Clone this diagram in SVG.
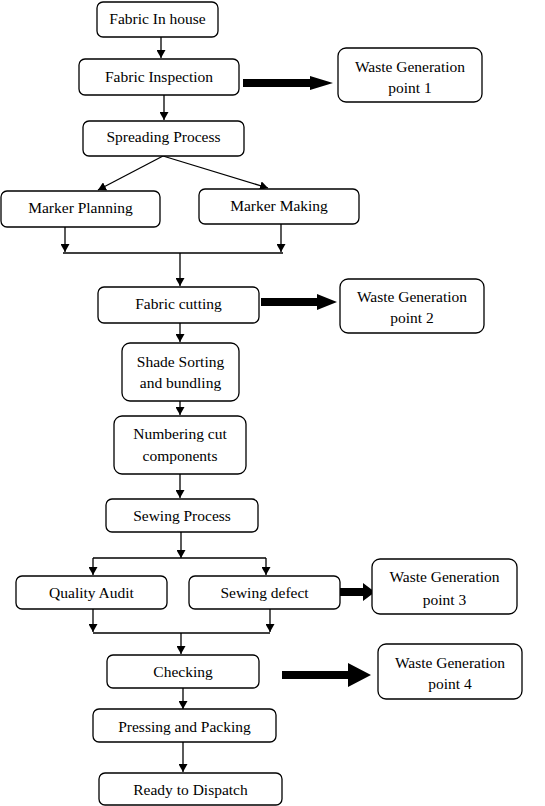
<svg xmlns="http://www.w3.org/2000/svg" width="545" height="806" viewBox="0 0 545 806" font-family="'Liberation Serif', 'Times New Roman', 'DejaVu Serif', serif">
<style>
.n rect{fill:#fff;stroke:#000;stroke-width:1.3}
text{font-family:'Liberation Serif','Times New Roman','DejaVu Serif',serif;font-size:15.5px;fill:#000;text-anchor:middle}
.c line{stroke:#000;stroke-width:1.3}
.c .a{marker-end:url(#ah)}
.t{fill:#000}
</style>
<defs>
<marker id="ah" markerUnits="userSpaceOnUse" markerWidth="8" markerHeight="9" refX="8" refY="4.5" orient="auto">
<path d="M0,0 L8,4.5 L0,9 z" fill="#000"/>
</marker>
</defs>
<rect width="545" height="806" fill="#fff"/>
<g class="c" id="connectors">
<line class="a" x1="161" y1="37" x2="161" y2="58"/>
<line class="a" x1="164" y1="95" x2="164" y2="120"/>
<line class="a" x1="163" y1="156" x2="98" y2="190"/>
<line class="a" x1="163" y1="156" x2="268" y2="188"/>
<line class="a" x1="65" y1="227" x2="65" y2="252"/>
<line class="a" x1="281" y1="224" x2="281" y2="252"/>
<line x1="63" y1="253" x2="283" y2="253"/>
<line class="a" x1="180" y1="253" x2="180" y2="286"/>
<line class="a" x1="180" y1="323" x2="180" y2="342"/>
<line class="a" x1="180" y1="401" x2="180" y2="415"/>
<line class="a" x1="180" y1="474" x2="180" y2="498"/>
<line class="a" x1="181" y1="532" x2="181" y2="558"/>
<line x1="93" y1="558" x2="266" y2="558"/>
<line class="a" x1="93" y1="558" x2="93" y2="575"/>
<line class="a" x1="266" y1="558" x2="266" y2="575"/>
<line class="a" x1="93" y1="609" x2="93" y2="632"/>
<line class="a" x1="270" y1="609" x2="270" y2="632"/>
<line x1="93" y1="633" x2="270" y2="633"/>
<line class="a" x1="181" y1="633" x2="181" y2="654"/>
<line class="a" x1="183" y1="688" x2="183" y2="709"/>
<line class="a" x1="183" y1="742" x2="183" y2="772"/>
<polygon class="t" points="243,79 310,79 310,76 333,83 310,90 310,87 243,87"/>
<polygon class="t" points="261,298 317,298 317,294 337,302 317,310 317,306 261,306"/>
<polygon class="t" points="340,588 363,588 363,583 375,592 363,601 363,596 340,596"/>
<polygon class="t" points="282,671 348,671 348,663 371,675 348,687 348,679 282,679"/>
</g>
<g class="n" id="fabric-in-house"><rect x="97" y="2" width="121" height="35" rx="6"/><text x="157.5" y="24">Fabric In house</text></g>
<g class="n" id="fabric-inspection"><rect x="79" y="59" width="160" height="36" rx="6"/><text x="159" y="82">Fabric Inspection</text></g>
<g class="n" id="waste-1"><rect x="338" y="48" width="144" height="54" rx="8"/><text x="410" y="72">Waste Generation</text><text x="410" y="93">point 1</text></g>
<g class="n" id="spreading"><rect x="83" y="121" width="161" height="35" rx="6"/><text x="163.5" y="142">Spreading Process</text></g>
<g class="n" id="marker-planning"><rect x="1" y="191" width="159" height="36" rx="6"/><text x="80.5" y="213">Marker Planning</text></g>
<g class="n" id="marker-making"><rect x="199" y="189" width="160" height="35" rx="6"/><text x="279" y="211">Marker Making</text></g>
<g class="n" id="fabric-cutting"><rect x="98" y="287" width="161" height="36" rx="6"/><text x="178.5" y="309">Fabric cutting</text></g>
<g class="n" id="waste-2"><rect x="340" y="279" width="144" height="54" rx="8"/><text x="412" y="302">Waste Generation</text><text x="412" y="323">point 2</text></g>
<g class="n" id="shade-sorting"><rect x="122" y="343" width="117" height="58" rx="8"/><text x="180.5" y="367">Shade Sorting</text><text x="180.5" y="388">and bundling</text></g>
<g class="n" id="numbering"><rect x="114" y="416" width="132" height="58" rx="8"/><text x="180" y="439">Numbering cut</text><text x="180" y="461">components</text></g>
<g class="n" id="sewing-process"><rect x="106" y="499" width="152" height="33" rx="6"/><text x="182" y="521">Sewing Process</text></g>
<g class="n" id="quality-audit"><rect x="16" y="576" width="151" height="33" rx="6"/><text x="91.5" y="598">Quality Audit</text></g>
<g class="n" id="sewing-defect"><rect x="189" y="576" width="151" height="33" rx="6"/><text x="264.5" y="598">Sewing defect</text></g>
<g class="n" id="waste-3"><rect x="372" y="559" width="145" height="55" rx="8"/><text x="444.5" y="582">Waste Generation</text><text x="444.5" y="605">point 3</text></g>
<g class="n" id="checking"><rect x="107" y="655" width="152" height="33" rx="6"/><text x="183" y="677">Checking</text></g>
<g class="n" id="waste-4"><rect x="378" y="644" width="144" height="55" rx="8"/><text x="450" y="668">Waste Generation</text><text x="450" y="689">point 4</text></g>
<g class="n" id="pressing"><rect x="93" y="709" width="183" height="33" rx="6"/><text x="184.5" y="732">Pressing and Packing</text></g>
<g class="n" id="ready"><rect x="99" y="773" width="183" height="32" rx="6"/><text x="190.5" y="795">Ready to Dispatch</text></g>
</svg>
